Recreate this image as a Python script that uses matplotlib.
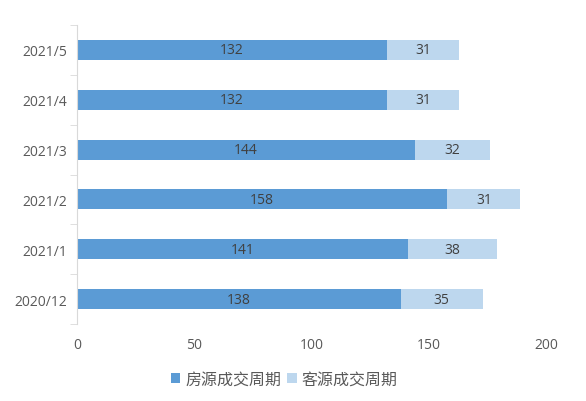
import matplotlib.pyplot as plt
import numpy as np

plt.rcParams['font.family'] = ['Open Sans', 'Noto Sans CJK SC', 'DejaVu Sans']

months = ["2020/12", "2021/1", "2021/2", "2021/3", "2021/4", "2021/5"]
house_cycle = [138, 141, 158, 144, 132, 132]
client_cycle = [35, 38, 31, 32, 31, 31]
x_ticks = [0, 50, 100, 150, 200]

fig = plt.figure(figsize=(5.86, 4.02), dpi=100)
ax = fig.add_axes([0.1314, 0.1915, 0.8003, 0.7438])

y = np.arange(len(months))
b1 = ax.barh(y, house_cycle, height=0.4, color="#5B9BD5", label="房源成交周期")
b2 = ax.barh(y, client_cycle, left=house_cycle, height=0.4, color="#BDD7EE", label="客源成交周期")

# value labels in the middle of each segment
for bars in (b1, b2):
    for rect in bars:
        w = rect.get_width()
        ax.text(rect.get_x() + w / 2, rect.get_y() + rect.get_height() / 2, f"{w:.0f}",
                ha="center", va="center", fontsize=10, color="#404040")

ax.set_xlim(0, 200)
ax.set_ylim(-0.5, len(months) - 0.5)
ax.set_xticks(x_ticks)
ax.set_yticks(y)
ax.set_yticklabels(months)
ax.set_yticks(np.arange(-0.5, len(months), 1), minor=True)

for s in ("top", "right", "bottom"):
    ax.spines[s].set_visible(False)
ax.spines["left"].set_color("#D9D9D9")
ax.tick_params(axis="y", which="major", length=0, pad=7, labelsize=10, colors="#595959")
ax.tick_params(axis="y", which="minor", length=5, color="#D9D9D9")
ax.tick_params(axis="x", length=0, pad=9, labelsize=10, colors="#595959")

ax.legend(loc="center", bbox_to_anchor=(0.485, 1 - 381 / 402), bbox_transform=fig.transFigure,
          ncol=2, frameon=False, fontsize=11.5, handlelength=0.6, handleheight=0.6,
          handletextpad=0.3, columnspacing=0.4, labelcolor="#595959")

fig.savefig("out.png", dpi=100)
